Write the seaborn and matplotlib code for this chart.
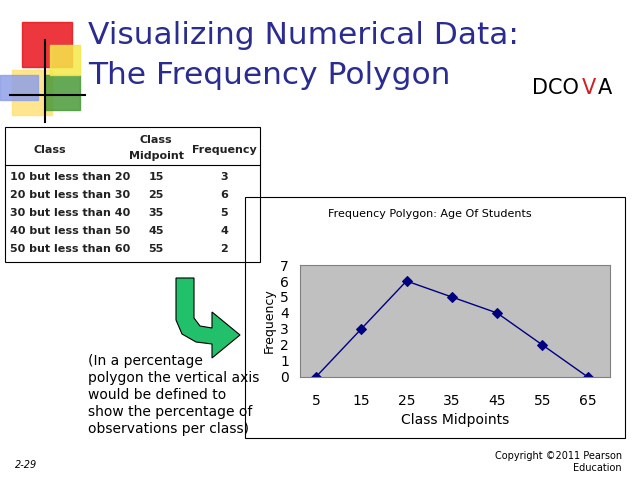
import matplotlib
matplotlib.use("Agg")
import matplotlib.pyplot as plt
import seaborn as sns
import pandas as pd
from matplotlib.patches import Rectangle, Polygon

classes = ["10 but less than 20", "20 but less than 30", "30 but less than 40",
           "40 but less than 50", "50 but less than 60"]
table_mid = [15, 25, 35, 45, 55]
table_freq = [3, 6, 5, 4, 2]
midpoints = [5, 15, 25, 35, 45, 55, 65]
frequency = [0, 3, 6, 5, 4, 2, 0]

W, H = 638, 478
fig = plt.figure(figsize=(W/100, H/100), dpi=100)
def fx(x): return x/W
def fy(y): return 1-y/H

for (x, y, w, h, c) in [(22, 22, 50, 45, "#E8141B"), (12, 70, 40, 45, "#FFE27A"),
                        (0, 75, 38, 25, "#8FA0E8"), (45, 75, 35, 35, "#4A9A3A"),
                        (50, 45, 30, 30, "#F5E84A")]:
    fig.patches.append(Rectangle((fx(x), fy(y+h)), w/W, h/H, transform=fig.transFigure,
                                 color=c, alpha=0.85, zorder=0))
fig.add_artist(plt.Line2D([fx(45), fx(45)], [fy(40), fy(122)], color="black", lw=1.5))
fig.add_artist(plt.Line2D([fx(10), fx(85)], [fy(95), fy(95)], color="black", lw=1.5))

blue = "#2B2C8F"
fig.text(fx(88), fy(35), "Visualizing Numerical Data:", fontsize=22.5, color=blue, va="center")
fig.text(fx(88), fy(75), "The Frequency Polygon", fontsize=22.5, color=blue, va="center")
fig.text(fx(532), fy(88), "DCO", fontsize=15, color="black", va="center")
fig.text(fx(582), fy(88), "V", fontsize=15, color="#D02020", va="center")
fig.text(fx(598), fy(88), "A", fontsize=15, color="black", va="center")

fig.patches.append(Rectangle((fx(5), fy(262)), 255/W, 135/H, transform=fig.transFigure,
                             fill=False, ec="black", lw=0.8))
fig.add_artist(plt.Line2D([fx(5), fx(260)], [fy(165), fy(165)], color="black", lw=0.8))
fig.text(fx(50), fy(150), "Class", fontsize=8, weight="bold", ha="center", va="center", color="#222")
fig.text(fx(156), fy(140), "Class", fontsize=8, weight="bold", ha="center", va="center", color="#222")
fig.text(fx(156), fy(156), "Midpoint", fontsize=8, weight="bold", ha="center", va="center", color="#222")
fig.text(fx(224), fy(150), "Frequency", fontsize=8, weight="bold", ha="center", va="center", color="#222")
for i, (c, m, f) in enumerate(zip(classes, table_mid, table_freq)):
    y = 177 + i*18
    fig.text(fx(10), fy(y), c, fontsize=8, weight="bold", va="center", color="#222")
    fig.text(fx(156), fy(y), str(m), fontsize=8, weight="bold", ha="center", va="center", color="#222")
    fig.text(fx(224), fy(y), str(f), fontsize=8, weight="bold", ha="center", va="center", color="#222")

pts = [(176, 278), (194, 278), (194, 318), (200, 326), (212, 328), (212, 312),
       (240, 335), (212, 358), (212, 344), (196, 342), (182, 334), (176, 320)]
fig.patches.append(Polygon([(fx(x), fy(y)) for x, y in pts], closed=True,
                           transform=fig.transFigure, fc="#22C06A", ec="black", lw=0.8))

fig.text(fx(88), fy(395), "(In a percentage\npolygon the vertical axis\nwould be defined to\nshow the percentage of\nobservations per class)",
         fontsize=10, va="center", linespacing=1.25)
fig.text(fx(15), fy(465), "2-29", fontsize=7, style="italic", va="center")
fig.text(fx(622), fy(462), "Copyright ©2011 Pearson\nEducation", fontsize=7, ha="right", va="center")

fig.patches.append(Rectangle((fx(245), fy(438)), 380/W, 241/H, transform=fig.transFigure,
                             fill=True, fc="white", ec="black", lw=0.8, zorder=0))
fig.text(fx(430), fy(214), "Frequency Polygon: Age Of Students", fontsize=8, ha="center", va="center")

ax = fig.add_axes([fx(300), fy(377), 310/W, 112/H])
ax.set_zorder(5)
ax.set_facecolor("#C0C0C0")
df = pd.DataFrame({"mid": midpoints, "freq": frequency})
sns.lineplot(data=df, x="mid", y="freq", ax=ax, color="#000080", marker="D",
             markersize=5, markeredgecolor="#000080", lw=1)
ax.set_xlim(1.5, 69.9)
ax.set_ylim(0, 7)
ax.set_yticks(range(8))
ax.set_xticks(midpoints)
ax.tick_params(labelsize=10, length=0)
ax.tick_params(axis="x", pad=12)
ax.tick_params(axis="y", pad=8)
ax.set_xlabel("Class Midpoints", fontsize=10)
ax.set_ylabel("Frequency", fontsize=9, labelpad=3)
for s in ax.spines.values():
    s.set_color("#808080")
fig.savefig("out.png", dpi=100)
